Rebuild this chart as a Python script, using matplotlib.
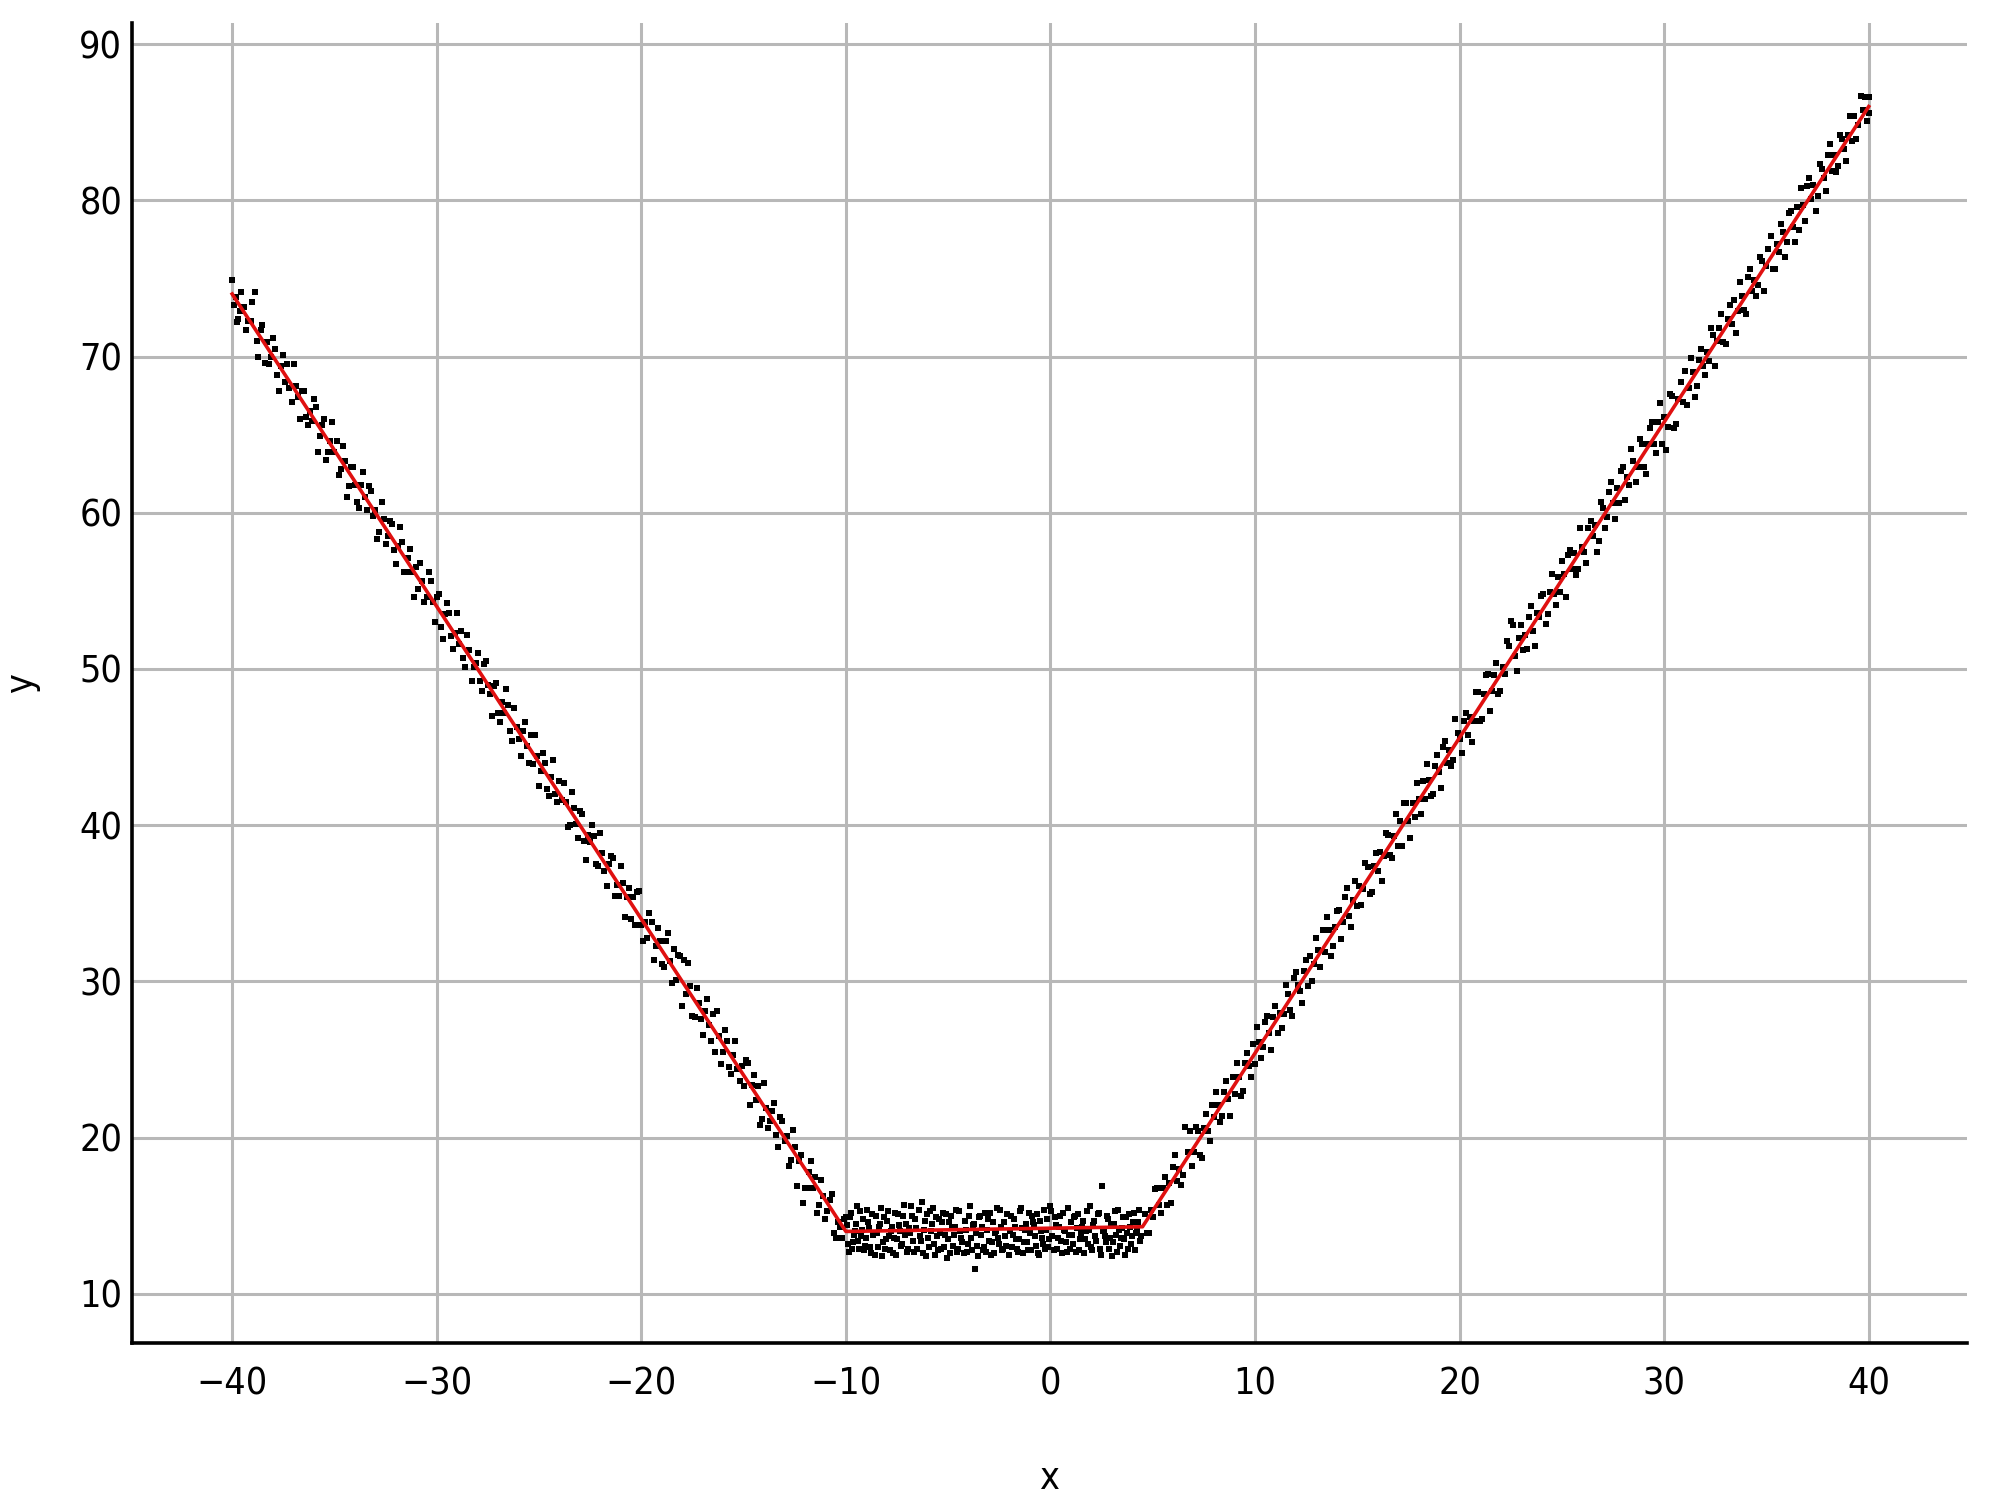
import matplotlib
matplotlib.use("Agg")
import matplotlib.pyplot as plt

# fitted piecewise line (red)
fit_x = [-40.0, -10.0, 4.5, 40.0]
fit_y = [74.0, 14.0, 14.3, 86.0]

# observed points, left branch
left_pts = [
    (-40.0, 74.9), (-39.9, 73.3), (-39.8, 73.8), (-39.7, 72.4), (-39.6, 72.9), (-39.4, 73.2),
    (-39.3, 71.7), (-39.1, 72.3), (-38.9, 74.1), (-38.8, 71.0), (-38.6, 71.7), (-38.4, 69.6),
    (-38.3, 70.9), (-38.1, 70.0), (-37.9, 70.5), (-37.8, 68.8), (-37.6, 69.4), (-37.4, 68.4),
    (-37.3, 69.5), (-37.1, 67.1), (-36.9, 68.1), (-36.8, 67.4), (-36.6, 67.8), (-36.4, 66.1),
    (-36.2, 66.5), (-36.1, 65.9), (-35.9, 66.8), (-35.7, 64.9), (-35.6, 65.6), (-35.4, 63.4),
    (-35.2, 64.6), (-35.0, 63.9), (-34.9, 64.6), (-34.7, 62.8), (-34.5, 63.3), (-34.3, 61.7),
    (-34.2, 62.9), (-34.0, 61.8), (-33.8, 60.3), (-33.7, 61.8), (-33.5, 61.0), (-33.3, 61.7),
    (-33.1, 59.8), (-33.0, 60.2), (-32.8, 58.8), (-32.6, 59.6), (-32.4, 58.5), (-32.3, 59.5),
    (-32.1, 57.6), (-31.9, 57.9), (-31.7, 58.1), (-31.6, 56.2), (-31.4, 57.1), (-31.2, 56.2),
    (-31.0, 56.5), (-30.9, 55.1), (-30.7, 55.6), (-30.5, 54.6), (-30.3, 55.6), (-30.2, 54.3),
    (-30.0, 54.6), (-29.8, 52.7), (-29.6, 53.5), (-29.5, 54.2), (-29.3, 52.1), (-29.1, 52.3),
    (-28.9, 51.6), (-28.8, 52.4), (-28.6, 50.1), (-28.4, 51.2), (-28.2, 50.1), (-28.1, 50.4),
    (-27.9, 49.2), (-27.7, 50.3), (-27.5, 49.0), (-27.4, 48.4), (-27.2, 48.9), (-27.0, 47.2),
    (-26.8, 47.9), (-26.7, 47.2), (-26.5, 47.7), (-26.3, 45.4), (-26.1, 46.3), (-26.0, 45.5),
    (-25.8, 46.0), (-25.6, 45.1), (-25.4, 45.8), (-25.3, 43.9), (-25.1, 44.4), (-24.9, 43.5),
    (-24.7, 44.0), (-24.6, 42.3), (-24.4, 43.1), (-24.2, 42.0), (-24.0, 42.8), (-23.9, 41.6),
    (-23.7, 41.5), (-23.5, 40.0), (-23.3, 41.1), (-23.2, 40.1), (-23.0, 40.9), (-22.8, 39.0),
    (-22.6, 39.4), (-22.5, 38.9), (-22.3, 39.3), (-22.1, 37.4), (-21.9, 38.2), (-21.8, 37.1),
    (-21.6, 37.5), (-21.4, 37.9), (-21.2, 36.2), (-21.1, 35.5), (-20.9, 36.3), (-20.7, 35.4),
    (-20.5, 34.0), (-20.4, 35.4), (-20.2, 35.7), (-20.0, 33.6), (-19.8, 33.8), (-19.7, 32.8),
    (-19.5, 33.8), (-19.3, 32.3), (-19.1, 32.6), (-19.0, 31.1), (-18.8, 32.6), (-18.6, 31.3),
    (-18.4, 32.1), (-18.3, 30.1), (-18.1, 31.6), (-17.9, 31.4), (-17.8, 29.2), (-17.6, 29.7),
    (-17.4, 27.7), (-17.2, 28.6), (-17.1, 27.6), (-16.9, 28.1), (-16.7, 27.2), (-16.5, 27.9),
    (-16.4, 25.5), (-16.2, 26.5), (-16.0, 25.5), (-15.8, 26.2), (-15.7, 24.5), (-15.5, 25.3),
    (-15.3, 24.4), (-15.1, 24.6), (-15.0, 23.3), (-14.8, 24.8), (-14.6, 23.4), (-14.4, 22.4),
    (-14.3, 23.3), (-14.1, 21.2), (-13.9, 21.9), (-13.7, 21.1), (-13.6, 21.7), (-13.4, 20.2),
    (-13.2, 21.3), (-13.0, 19.8), (-12.9, 20.1), (-12.7, 18.6), (-12.5, 19.4), (-12.3, 18.5),
    (-12.2, 18.9), (-12.1, 15.8), (-12.0, 16.8), (-11.8, 17.8), (-11.6, 16.8), (-11.5, 17.5),
    (-11.3, 15.7), (-11.1, 16.3), (-10.9, 15.3), (-10.8, 16.0), (-10.6, 13.9), (-10.4, 14.6),
    (-10.3, 14.3), (-10.1, 14.8),
    (-39.75, 72.2), (-39.55, 74.1), (-39.25, 72.3), (-39.05, 73.5), (-38.75, 70.0), (-38.55, 72.0),
    (-38.2, 69.5), (-38.0, 71.2), (-37.7, 67.8), (-37.5, 70.1), (-37.2, 68.0), (-37.0, 69.5),
    (-36.7, 66.0), (-36.5, 67.8), (-36.3, 65.6), (-36.0, 67.3), (-35.8, 63.9), (-35.5, 66.0),
    (-35.3, 63.9), (-35.1, 65.8), (-34.8, 62.4), (-34.6, 64.3), (-34.4, 61.0), (-34.1, 62.9),
    (-33.9, 60.7), (-33.6, 62.6), (-33.4, 60.2), (-33.2, 61.4), (-32.9, 58.3), (-32.7, 60.7),
    (-32.5, 58.0), (-32.2, 59.3), (-32.0, 56.7), (-31.8, 59.1), (-31.5, 56.2), (-31.3, 57.7),
    (-31.1, 54.6), (-30.8, 56.8), (-30.6, 54.3), (-30.4, 56.2), (-30.1, 53.0), (-29.9, 54.8),
    (-29.7, 51.9), (-29.4, 53.6), (-29.2, 51.3), (-29.0, 53.6), (-28.7, 50.7), (-28.5, 52.2),
    (-28.3, 49.2), (-28.0, 51.0), (-27.8, 48.6), (-27.6, 50.5), (-27.3, 47.0), (-27.1, 49.1),
    (-26.9, 46.6), (-26.6, 48.7), (-26.4, 46.0), (-26.2, 47.5), (-25.9, 44.4), (-25.7, 46.6),
    (-25.5, 44.0), (-25.2, 45.8), (-25.0, 42.5), (-24.8, 44.6), (-24.5, 41.9), (-24.3, 44.2),
    (-24.1, 41.5), (-23.8, 42.7), (-23.6, 39.9), (-23.4, 42.1), (-23.1, 39.2), (-22.9, 40.7),
    (-22.7, 37.8), (-22.4, 40.0), (-22.2, 37.5), (-22.0, 39.5), (-21.7, 36.1), (-21.5, 38.0),
    (-21.3, 35.5), (-21.0, 37.4), (-20.8, 34.1), (-20.6, 36.0), (-20.3, 33.6), (-20.1, 35.8),
    (-19.9, 32.6), (-19.6, 34.4), (-19.4, 31.4), (-19.2, 33.4), (-18.9, 30.9), (-18.7, 33.1),
    (-18.5, 29.9), (-18.2, 31.7), (-18.0, 28.4), (-17.7, 31.2), (-17.5, 27.8), (-17.3, 29.6),
    (-17.0, 26.6), (-16.8, 28.9), (-16.6, 26.2), (-16.3, 28.1), (-16.1, 24.7), (-15.9, 26.9),
    (-15.6, 24.1), (-15.4, 26.2), (-15.2, 23.6), (-14.9, 25.0), (-14.7, 22.1), (-14.5, 24.0),
    (-14.2, 20.8), (-14.0, 23.5), (-13.8, 20.6), (-13.5, 22.2), (-13.3, 19.4), (-13.1, 21.1),
    (-12.8, 18.2), (-12.6, 20.5), (-12.4, 16.9), (-11.9, 16.8), (-11.7, 18.5), (-11.4, 15.2),
    (-11.2, 17.3), (-11.0, 14.8), (-10.7, 16.4), (-10.5, 13.6), (-10.2, 13.6), (-10.0, 14.9),
]

# observed points, flat bottom
flat_pts = [
    (-9.9, 13.2), (-9.8, 14.9), (-9.7, 12.9), (-9.6, 13.8), (-9.5, 14.5), (-9.4, 13.4),
    (-9.3, 15.3), (-9.2, 14.1), (-9.1, 12.8), (-9.0, 13.6), (-8.9, 14.6), (-8.8, 13.0),
    (-8.7, 15.1), (-8.6, 12.5), (-8.5, 13.9), (-8.4, 14.3), (-8.3, 15.5), (-8.2, 13.3),
    (-8.1, 12.9), (-8.0, 14.7), (-7.9, 13.7), (-7.8, 14.0), (-7.7, 12.6), (-7.6, 15.2),
    (-7.5, 13.5), (-7.4, 14.4), (-7.3, 13.1), (-7.2, 15.0), (-7.1, 13.8), (-7.0, 12.7),
    (-6.9, 14.2), (-6.8, 15.6), (-6.7, 13.4), (-6.6, 14.8), (-6.5, 12.9), (-6.4, 13.7),
    (-6.3, 15.9), (-6.2, 14.1), (-6.1, 12.4), (-6.0, 13.6), (-5.9, 15.3), (-5.8, 14.5),
    (-5.7, 13.2), (-5.6, 14.9), (-5.5, 12.8), (-5.4, 13.9), (-5.3, 14.6), (-5.2, 13.0),
    (-5.1, 15.1), (-5.0, 13.5), (-4.9, 12.6), (-4.8, 14.3), (-4.7, 13.8), (-4.6, 15.4),
    (-4.5, 12.9), (-4.4, 14.0), (-4.3, 13.3), (-4.2, 14.7), (-4.1, 12.7), (-4.0, 15.0),
    (-3.9, 13.6), (-3.8, 14.4), (-3.7, 11.6), (-3.6, 13.1), (-3.5, 14.9), (-3.4, 13.8),
    (-3.3, 12.8), (-3.2, 15.2), (-3.1, 14.1), (-3.0, 13.4), (-2.9, 12.5), (-2.8, 14.6),
    (-2.7, 13.9), (-2.6, 15.5), (-2.5, 13.2), (-2.4, 14.3), (-2.3, 12.9), (-2.2, 13.7),
    (-2.1, 15.1), (-2.0, 14.0), (-1.9, 13.0), (-1.8, 14.8), (-1.7, 13.5), (-1.6, 12.7),
    (-1.5, 15.3), (-1.4, 14.2), (-1.3, 13.3), (-1.2, 14.5), (-1.1, 12.8), (-1.0, 13.9),
    (-0.9, 15.0), (-0.8, 14.4), (-0.7, 13.1), (-0.6, 12.6), (-0.5, 14.7), (-0.4, 13.6),
    (-0.3, 15.4), (-0.2, 14.1), (-0.1, 13.0), (0.0, 15.6), (0.1, 13.7), (0.2, 14.9),
    (0.3, 12.9), (0.4, 14.3), (0.5, 13.4), (0.6, 15.2), (0.7, 14.0), (0.8, 12.7),
    (0.9, 13.8), (1.0, 14.6), (1.1, 13.2), (1.2, 15.0), (1.3, 14.2), (1.4, 12.8),
    (1.5, 13.9), (1.6, 14.7), (1.7, 13.5), (1.8, 15.3), (1.9, 14.1), (2.0, 13.0),
    (2.1, 14.4), (2.2, 13.7), (2.3, 15.1), (2.4, 12.9), (2.5, 16.9), (2.6, 14.0),
    (2.7, 13.3), (2.8, 14.8), (2.9, 13.6), (3.0, 12.4), (3.1, 14.5), (3.2, 13.8),
    (3.3, 15.4), (3.4, 13.1), (3.5, 14.2), (3.6, 13.5), (3.7, 14.9), (3.8, 12.9),
    (3.9, 14.3), (4.0, 13.7), (4.1, 15.2), (4.2, 13.9), (4.3, 14.6), (4.4, 13.4),
    (-9.95, 14.4), (-9.85, 12.7), (-9.75, 15.2), (-9.65, 13.3), (-9.55, 14.0), (-9.45, 15.6),
    (-9.35, 12.9), (-9.25, 13.7), (-9.15, 14.8), (-9.05, 13.1), (-8.95, 15.4), (-8.85, 14.2),
    (-8.75, 12.6), (-8.65, 13.8), (-8.55, 15.0), (-8.45, 13.0), (-8.35, 14.5), (-8.25, 12.4),
    (-8.15, 14.9), (-8.05, 13.5), (-7.95, 15.3), (-7.85, 12.8), (-7.75, 14.3), (-7.65, 13.6),
    (-7.55, 12.5), (-7.45, 15.1), (-7.35, 14.0), (-7.25, 13.2), (-7.15, 15.7), (-7.05, 14.5),
    (-6.95, 12.9), (-6.85, 13.9), (-6.75, 15.0), (-6.65, 12.7), (-6.55, 14.2), (-6.45, 15.4),
    (-6.35, 13.4), (-6.25, 12.6), (-6.15, 14.7), (-6.05, 15.1), (-5.95, 13.0), (-5.85, 14.0),
    (-5.75, 15.5), (-5.65, 12.5), (-5.55, 13.7), (-5.45, 14.8), (-5.35, 12.9), (-5.25, 15.2),
    (-5.15, 13.8), (-5.05, 12.3), (-4.95, 14.6), (-4.85, 15.0), (-4.75, 13.1), (-4.65, 14.3),
    (-4.55, 12.7), (-4.45, 15.3), (-4.35, 13.6), (-4.25, 12.6), (-4.15, 14.1), (-4.05, 13.2),
    (-3.95, 15.6), (-3.85, 12.8), (-3.75, 14.5), (-3.65, 13.9), (-3.55, 12.4), (-3.45, 15.0),
    (-3.35, 14.3), (-3.25, 13.0), (-3.15, 12.7), (-3.05, 14.8), (-2.95, 15.2), (-2.85, 13.3),
    (-2.75, 12.6), (-2.65, 14.0), (-2.55, 13.6), (-2.45, 15.4), (-2.35, 12.8), (-2.25, 14.6),
    (-2.15, 13.1), (-2.05, 12.5), (-1.95, 15.0), (-1.85, 13.8), (-1.75, 14.3), (-1.65, 12.9),
    (-1.55, 13.5), (-1.45, 15.5), (-1.35, 12.6), (-1.25, 14.1), (-1.15, 13.3), (-1.05, 15.2),
    (-0.95, 12.8), (-0.85, 14.6), (-0.75, 13.7), (-0.65, 15.1), (-0.55, 12.5), (-0.45, 14.0),
    (-0.35, 13.2), (-0.25, 12.9), (-0.15, 14.8), (-0.05, 13.5), (0.05, 15.3), (0.15, 12.8),
    (0.25, 14.4), (0.35, 13.6), (0.45, 15.0), (0.55, 12.6), (0.65, 14.1), (0.75, 13.3),
    (0.85, 15.5), (0.95, 12.9), (1.05, 13.8), (1.15, 14.9), (1.25, 12.7), (1.35, 15.1),
    (1.45, 13.5), (1.55, 14.3), (1.65, 12.6), (1.75, 14.0), (1.85, 13.2), (1.95, 15.6),
    (2.05, 12.8), (2.15, 14.7), (2.25, 13.4), (2.35, 15.2), (2.45, 12.5), (2.55, 14.0),
    (2.65, 13.7), (2.75, 15.0), (2.85, 12.9), (2.95, 14.4), (3.05, 13.3), (3.15, 15.3),
    (3.25, 12.7), (3.35, 14.1), (3.45, 13.6), (3.55, 14.9), (3.65, 12.5), (3.75, 13.9),
    (3.85, 15.1), (3.95, 13.2), (4.05, 14.6), (4.15, 12.8), (4.25, 14.0), (4.35, 15.4),
    (4.45, 13.7),
]

# observed points, right branch
right_pts = [
    (4.6, 15.1), (4.7, 13.9), (4.9, 15.4), (5.0, 14.9), (5.2, 16.8), (5.3, 15.7),
    (5.5, 16.8), (5.7, 15.7), (5.8, 17.1), (6.0, 18.1), (6.2, 17.2), (6.3, 18.0),
    (6.5, 17.6), (6.7, 19.1), (6.8, 20.4), (7.0, 19.1), (7.2, 20.4), (7.3, 18.9),
    (7.5, 20.6), (7.7, 20.4), (7.9, 22.1), (8.0, 21.3), (8.2, 22.1), (8.4, 21.4),
    (8.5, 22.9), (8.7, 22.5), (8.9, 23.9), (9.0, 22.8), (9.2, 23.9), (9.4, 23.0),
    (9.5, 24.8), (9.7, 24.6), (9.9, 26.0), (10.0, 24.7), (10.2, 26.1), (10.4, 25.8),
    (10.5, 27.4), (10.7, 26.7), (10.9, 27.7), (11.1, 26.7), (11.2, 28.0), (11.4, 27.9),
    (11.6, 29.2), (11.7, 28.2), (11.9, 30.2), (12.1, 29.8), (12.2, 29.4), (12.4, 30.7),
    (12.6, 29.7), (12.7, 31.6), (12.9, 31.1), (13.1, 32.0), (13.3, 33.3), (13.4, 31.9),
    (13.6, 33.3), (13.8, 32.3), (13.9, 33.5), (14.1, 34.6), (14.3, 33.8), (14.4, 35.4),
    (14.6, 34.2), (14.8, 35.2), (15.0, 34.8), (15.1, 36.1), (15.3, 35.9), (15.5, 37.3),
    (15.6, 35.6), (15.8, 37.4), (16.0, 37.1), (16.1, 38.3), (16.3, 38.0), (16.5, 39.4),
    (16.6, 38.1), (16.8, 39.3), (17.0, 38.7), (17.1, 40.3), (17.3, 41.4), (17.5, 40.3),
    (17.7, 41.4), (17.8, 40.5), (18.0, 41.7), (18.2, 42.8), (18.3, 41.7), (18.5, 42.9),
    (18.7, 42.0), (18.8, 43.8), (19.0, 43.4), (19.2, 45.0), (19.4, 44.0), (19.5, 44.8),
    (19.7, 44.2), (19.9, 45.9), (20.0, 45.5), (20.2, 46.7), (20.4, 45.8), (20.5, 46.9),
    (20.7, 46.7), (20.9, 48.5), (21.0, 46.7), (21.2, 48.4), (21.4, 49.7), (21.6, 48.6),
    (21.7, 49.6), (21.9, 48.4), (22.1, 50.1), (22.2, 49.7), (22.4, 51.5), (22.6, 52.8),
    (22.7, 50.8), (22.9, 52.0), (23.1, 51.2), (23.2, 52.2), (23.4, 53.3), (23.6, 52.4),
    (23.8, 53.6), (23.9, 53.3), (24.1, 54.8), (24.3, 53.5), (24.4, 54.9), (24.6, 54.8),
    (24.8, 55.9), (24.9, 54.9), (25.1, 56.1), (25.3, 57.3), (25.5, 56.4), (25.6, 57.4),
    (25.8, 56.4), (26.0, 57.8), (26.1, 57.5), (26.3, 59.0), (26.5, 58.5), (26.6, 59.2),
    (26.8, 58.2), (27.0, 60.3), (27.2, 59.7), (27.3, 61.3), (27.5, 60.6), (27.7, 61.6),
    (27.8, 60.6), (28.0, 62.9), (28.2, 62.3), (28.3, 61.8), (28.5, 63.3), (28.7, 62.9),
    (28.9, 64.4), (29.0, 62.9), (29.2, 64.4), (29.4, 65.8), (29.5, 64.4), (29.7, 65.8),
    (29.9, 64.4), (30.0, 66.1), (30.2, 65.5), (30.4, 67.5), (30.5, 65.4), (30.7, 67.3),
    (30.9, 67.1), (31.0, 69.1), (31.2, 68.0), (31.4, 69.0), (31.6, 68.1), (31.7, 69.8),
    (31.9, 69.4), (32.1, 70.3), (32.2, 69.7), (32.4, 71.4), (32.6, 71.0), (32.7, 71.8),
    (32.9, 70.9), (33.1, 72.4), (33.3, 72.1), (33.4, 73.6), (33.6, 72.9), (33.8, 73.9),
    (33.9, 73.0), (34.1, 75.1), (34.3, 74.2), (34.4, 74.9), (34.6, 74.6), (34.8, 76.1),
    (35.0, 75.8), (35.1, 76.9), (35.3, 75.6), (35.5, 77.2), (35.6, 76.7), (35.8, 78.0),
    (36.0, 77.3), (36.1, 79.2), (36.3, 78.3), (36.5, 79.6), (36.6, 78.1), (36.8, 79.7),
    (37.0, 80.9), (37.2, 80.1), (37.3, 81.0), (37.5, 80.3), (37.7, 82.0), (37.8, 81.4),
    (38.0, 82.9), (38.2, 81.9), (38.3, 82.9), (38.5, 82.2), (38.7, 83.9), (38.8, 83.3),
    (39.0, 84.2), (39.2, 83.8), (39.3, 85.4), (39.5, 84.8), (39.7, 85.8), (39.8, 86.6),
    (40.0, 85.6), (40.0, 86.6),
    (4.8, 13.9), (5.1, 16.7), (5.4, 15.2), (5.6, 17.5), (5.9, 15.8), (6.1, 18.9),
    (6.4, 17.0), (6.6, 20.7), (6.9, 18.2), (7.1, 20.7), (7.4, 18.7), (7.6, 21.5),
    (7.8, 19.8), (8.1, 22.9), (8.3, 21.0), (8.6, 23.6), (8.8, 21.4), (9.1, 24.8),
    (9.3, 22.7), (9.6, 25.4), (9.8, 23.9), (10.1, 27.1), (10.3, 25.1), (10.6, 27.8),
    (10.8, 25.6), (11.0, 28.4), (11.3, 27.0), (11.5, 29.8), (11.8, 27.8), (12.0, 30.6),
    (12.3, 28.6), (12.5, 31.4), (12.8, 30.0), (13.0, 32.8), (13.2, 30.9), (13.5, 34.1),
    (13.7, 31.6), (14.0, 34.5), (14.2, 32.7), (14.5, 36.0), (14.7, 33.5), (14.9, 36.4),
    (15.2, 34.9), (15.4, 37.6), (15.7, 35.7), (15.9, 38.2), (16.2, 36.4), (16.4, 39.5),
    (16.7, 37.9), (16.9, 40.7), (17.2, 38.7), (17.4, 41.4), (17.6, 39.2), (17.9, 42.7),
    (18.1, 40.7), (18.4, 43.9), (18.6, 41.9), (18.9, 44.5), (19.1, 42.4), (19.3, 45.4),
    (19.6, 43.8), (19.8, 46.8), (20.1, 44.6), (20.3, 47.2), (20.6, 45.3), (20.8, 48.5),
    (21.1, 46.8), (21.3, 49.6), (21.5, 47.3), (21.8, 50.4), (22.0, 48.6), (22.3, 51.8),
    (22.5, 53.1), (22.8, 49.9), (23.0, 52.8), (23.3, 51.3), (23.5, 54.0), (23.7, 51.5),
    (24.0, 54.7), (24.2, 52.9), (24.5, 56.1), (24.7, 54.1), (25.0, 56.9), (25.2, 54.6),
    (25.4, 57.6), (25.7, 56.0), (25.9, 59.0), (26.2, 56.8), (26.4, 59.5), (26.7, 57.5),
    (26.9, 60.7), (27.1, 59.0), (27.4, 62.0), (27.6, 59.6), (27.9, 62.7), (28.1, 60.8),
    (28.4, 64.1), (28.6, 62.0), (28.8, 64.7), (29.1, 62.5), (29.3, 65.4), (29.6, 63.8),
    (29.8, 67.0), (30.1, 64.0), (30.3, 67.6), (30.6, 65.7), (30.8, 68.4), (31.1, 66.9),
    (31.3, 69.9), (31.5, 67.4), (31.8, 70.5), (32.0, 68.8), (32.3, 71.8), (32.5, 69.4),
    (32.8, 72.7), (33.0, 70.8), (33.2, 73.3), (33.5, 71.5), (33.7, 74.8), (34.0, 72.7),
    (34.2, 75.6), (34.5, 73.9), (34.7, 76.4), (34.9, 74.2), (35.2, 77.7), (35.4, 75.6),
    (35.7, 78.5), (35.9, 76.4), (36.2, 79.3), (36.4, 77.3), (36.7, 80.8), (36.9, 78.7),
    (37.1, 81.4), (37.4, 79.3), (37.6, 82.3), (37.9, 80.6), (38.1, 83.6), (38.4, 81.8),
    (38.6, 84.2), (38.9, 82.5), (39.1, 85.4), (39.4, 83.9), (39.6, 86.7), (39.9, 85.1),
]

x_ticks = [-40, -30, -20, -10, 0, 10, 20, 30, 40]
y_ticks = [10, 20, 30, 40, 50, 60, 70, 80, 90]

plt.rcParams['font.family'] = ['DejaVu Sans']
plt.rcParams['font.stretch'] = 'condensed'

fig = plt.figure(figsize=(19.9, 15.1), dpi=100)
ax = fig.add_axes([0.0663, 0.1106, 0.9221, 0.8742])

all_pts = left_pts + flat_pts + right_pts
px = [p[0] for p in all_pts]
py = [p[1] for p in all_pts]
ax.scatter(px, py, s=24, marker='s', color='black', linewidths=0, zorder=2)
ax.plot(fit_x, fit_y, color='#e01010', linewidth=2.6, zorder=3)

ax.set_xlim(-44.9, 44.8)
ax.set_ylim(6.86, 91.35)
ax.set_xticks(x_ticks)
ax.set_yticks(y_ticks)
ax.set_xticklabels([str(t).replace('-', '\u2212') for t in x_ticks])

ax.grid(True, color='#b8b8b8', linewidth=2.2)
ax.set_axisbelow(True)
for side in ['top', 'right']:
    ax.spines[side].set_visible(False)
for side in ['left', 'bottom']:
    ax.spines[side].set_linewidth(2.6)
    ax.spines[side].set_color('black')

ax.tick_params(axis='both', length=0, labelsize=27, colors='black')
ax.tick_params(axis='x', pad=17)
ax.tick_params(axis='y', pad=7)

ax.set_xlabel('x', fontsize=27, labelpad=42)
ax.set_ylabel('y', fontsize=27, labelpad=28)

fig.savefig('out.png', dpi=100)
